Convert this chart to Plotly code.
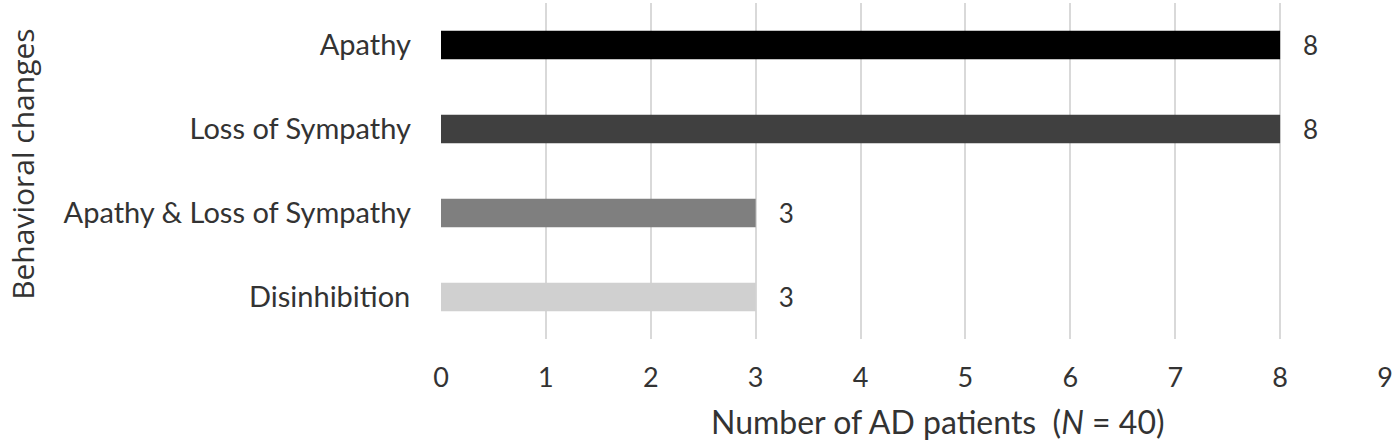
import plotly.graph_objects as go

# data
categories = ["Apathy", "Loss of Sympathy", "Apathy & Loss of Sympathy", "Disinhibition"]
patients = [8, 8, 3, 3]
bar_colors = ["#000000", "#404040", "#7f7f7f", "#d0d0d0"]
x_ticks = [0, 1, 2, 3, 4, 5, 6, 7, 8, 9]
x_title = "Number of AD patients  (<i>N</i> = 40)"
y_title = "Behavioral changes"

font_main = "Lato, Noto Sans"

fig = go.Figure(
    go.Bar(
        x=patients,
        y=categories,
        orientation="h",
        marker=dict(color=bar_colors, line=dict(width=0)),
        width=0.34,
        text=["   " + str(v) for v in patients],
        textposition="outside",
        constraintext="none",
        cliponaxis=False,
        textfont=dict(size=26, color="#333333", family=font_main),
    )
)

fig.update_layout(
    width=1398,
    height=443,
    margin=dict(l=441, r=13, t=3, b=104),
    plot_bgcolor="white",
    paper_bgcolor="white",
    showlegend=False,
    font=dict(family=font_main, color="#333333"),
    xaxis=dict(
        range=[0, 9],
        tickvals=x_ticks,
        automargin=False,
        showgrid=True,
        gridcolor="#d9d9d9",
        gridwidth=2,
        zeroline=False,
        showline=False,
        ticks="",
        ticklabelstandoff=20,
        tickfont=dict(size=27),
    ),
    yaxis=dict(
        autorange="reversed",
        automargin=False,
        showgrid=False,
        zeroline=False,
        showline=False,
        ticks="",
        ticksuffix="    ",
        tickfont=dict(size=29),
    ),
)

# axis titles as annotations so they can sit where the original has them
fig.add_annotation(
    text=x_title,
    xref="paper", yref="paper",
    x=0.5265, y=0,
    xanchor="center", yanchor="middle",
    yshift=-82,
    showarrow=False,
    font=dict(size=32, family=font_main, color="#333333"),
)
fig.add_annotation(
    text=y_title,
    textangle=-90,
    xref="paper", yref="paper",
    x=-0.444, y=0.5,
    xanchor="center", yanchor="middle",
    yshift=7,
    borderpad=0,
    showarrow=False,
    font=dict(size=30, family="Open Sans, DejaVu Sans", color="#333333"),
)

fig.write_html("out.html", config={"displayModeBar": False},
               post_script="document.body.style.margin='0';")
